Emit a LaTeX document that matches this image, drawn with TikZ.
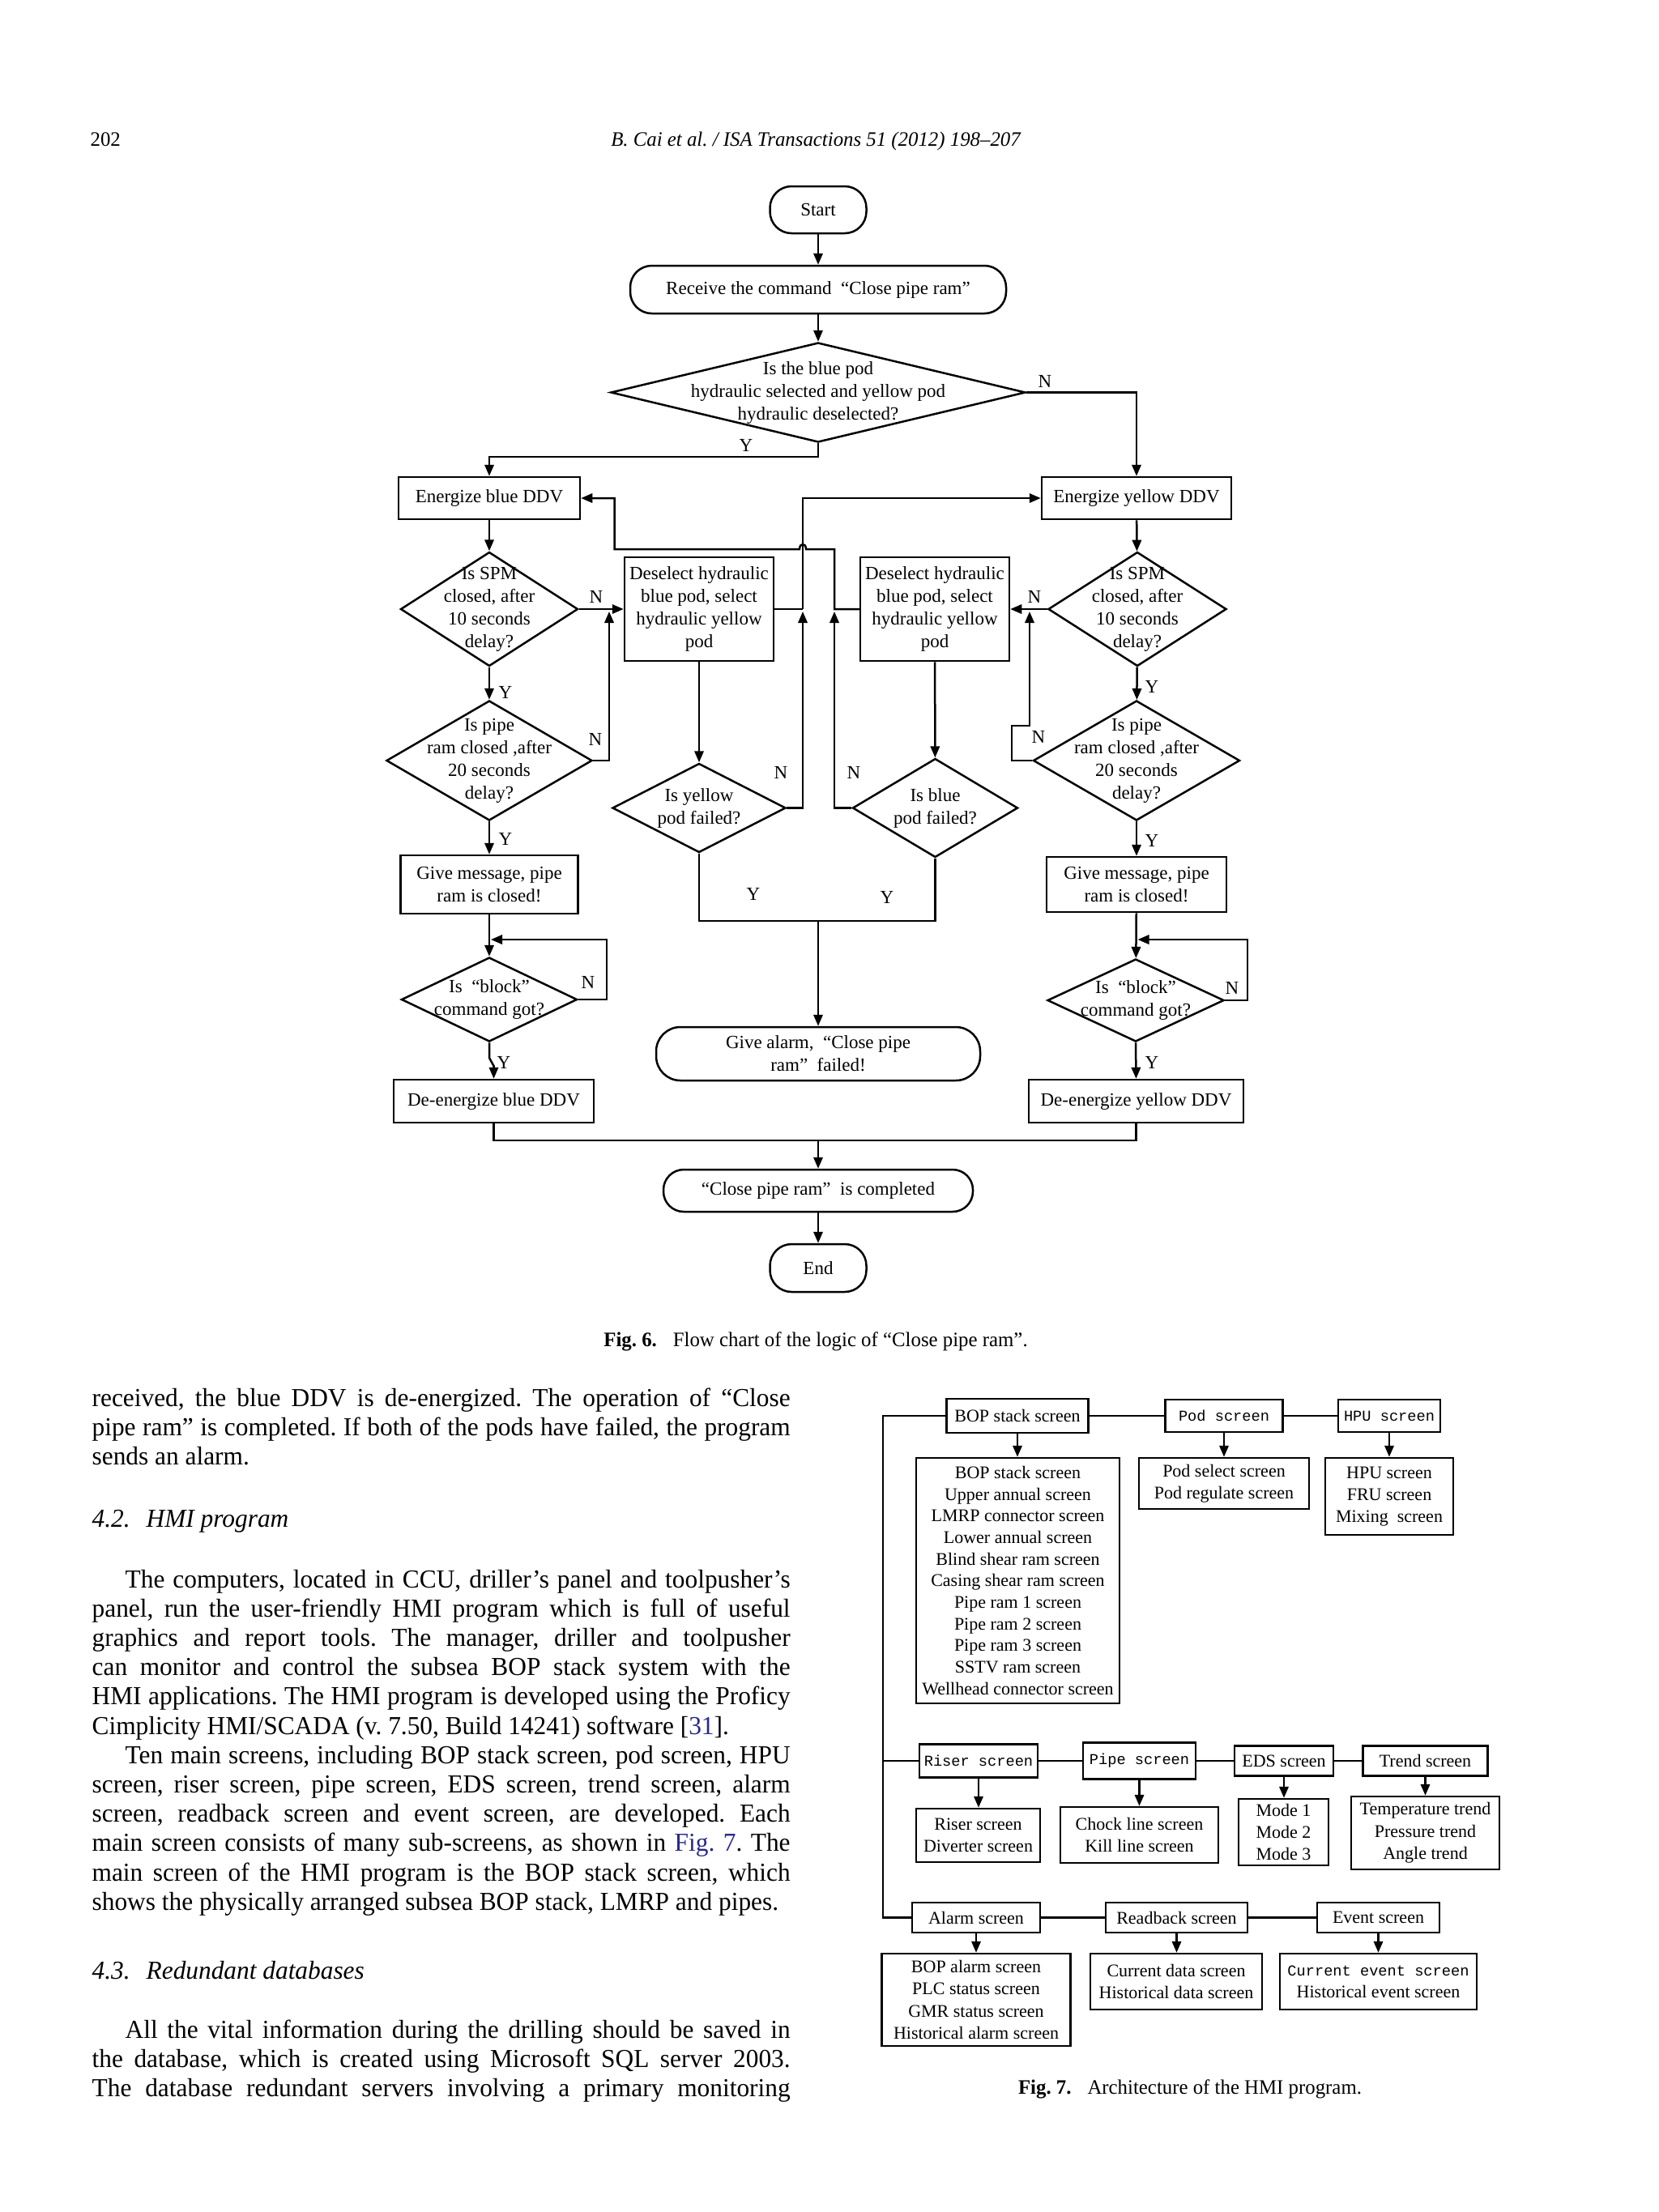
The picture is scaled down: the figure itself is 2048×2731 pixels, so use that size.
\documentclass[tikz,border=0pt]{standalone}
\usepackage{fontspec}
\setmainfont{Liberation Serif}
\newfontfamily\bodyfont[FakeStretch=0.98]{Liberation Serif}
\newfontfamily\monofont{Liberation Mono}
\usetikzlibrary{shapes.geometric,arrows.meta}
\definecolor{linkblue}{RGB}{40,40,140}
\frenchspacing
\newcommand\PX{0.3pt}
\newlength\colw \setlength\colw{258.6pt}
\newcommand\jline[1]{\hbox to \colw{#1}}
\newcommand\lline[1]{\hbox to \colw{#1\hfil}}
\newcommand\bt{\bodyfont\fontsize{9.6}{10.86}\selectfont\frenchspacing}
\newcommand\capf{\bodyfont\fontsize{7.6}{9.2}\selectfont\frenchspacing}
\newcommand\fc{\fontsize{6.9}{8.4}\selectfont}
\newcommand\fs{\fontsize{6.6}{8.2}\selectfont}
\newcommand\fm{\monofont\fontsize{5.6}{8.2}\selectfont}
\tikzset{
  ln/.style={line width=0.75pt},
  arr/.style={ln, -{Triangle[length=4.2pt,width=3.4pt]}},
  fbox/.style={draw, line width=0.75pt, inner sep=0pt, font=\fc, align=center},
  dia/.style={draw, diamond, line width=0.75pt, inner sep=0pt},
  dtext/.style={inner sep=0pt, align=center, font=\fc},
  lab/.style={inner sep=0pt, font=\fc},
  f7/.style={draw, line width=0.75pt, inner sep=0pt, align=center, font=\fs},
  f7m/.style={f7, font=\fm},
  body/.style={anchor=base west, inner sep=0pt, font=\bt},
}
\begin{document}
\begin{tikzpicture}[x=0.3pt, y=-0.3pt]
\path[use as bounding box, fill=white] (0,0) rectangle (2048,2731);

% ---------- header ----------
\node[anchor=base west, inner sep=0pt, font=\capf] (pg) at (111,180) {202};
\node[anchor=base, inner sep=0pt, font=\capf\itshape] (hd) at (1007,180) {B. Cai et al. / ISA Transactions 51 (2012) 198–207};

% ---------- Fig. 6 ----------
\node[fbox, rounded corners=8pt, minimum width={119*\PX}, minimum height={58*\PX}] (start) at (1010,259) {Start};
\node[fbox, rounded corners=8pt, minimum width={464*\PX}, minimum height={59*\PX}] (recv) at (1010,357.5) {Receive the command\ \ “Close pipe ram”};
\node[dia, minimum width={512*\PX}, minimum height={123*\PX}] (d0) at (1010,484.5) {};
\node[dtext] (d0t) at (d0) {Is the blue pod\\hydraulic selected and yellow pod\\hydraulic deselected?};

\node[fbox, minimum width={224*\PX}, minimum height={52*\PX}] (ebl) at (604,615) {Energize blue DDV};
\node[fbox, minimum width={234*\PX}, minimum height={52*\PX}] (eyl) at (1403,615) {Energize yellow DDV};

\node[dia, minimum width={219*\PX}, minimum height={141*\PX}] (spmL) at (604,752) {};
\node[dtext] (spmLt) at (spmL) {Is SPM\\closed, after\\10 seconds\\delay?};
\node[dia, minimum width={220*\PX}, minimum height={141*\PX}] (spmR) at (1404,752) {};
\node[dtext] (spmRt) at (spmR) {Is SPM\\closed, after\\10 seconds\\delay?};

\node[fbox, minimum width={184*\PX}, minimum height={128*\PX}] (desL) at (863,752) {Deselect hydraulic\\blue pod, select\\hydraulic yellow\\pod};
\node[fbox, minimum width={184*\PX}, minimum height={128*\PX}] (desR) at (1154,752) {Deselect hydraulic\\blue pod, select\\hydraulic yellow\\pod};

\node[dia, minimum width={254*\PX}, minimum height={148*\PX}] (pipeL) at (604,939) {};
\node[dtext] (pipeLt) at (pipeL) {Is pipe\\ram closed ,after\\20 seconds\\delay?};
\node[dia, minimum width={255*\PX}, minimum height={148*\PX}] (pipeR) at (1403,939) {};
\node[dtext] (pipeRt) at (pipeR) {Is pipe\\ram closed ,after\\20 seconds\\delay?};

\node[dia, minimum width={214*\PX}, minimum height={110*\PX}] (podY) at (863,997.5) {};
\node[dtext] (podYt) at (podY) {Is yellow\\pod failed?};
\node[dia, minimum width={204*\PX}, minimum height={122*\PX}] (podB) at (1154.5,997.5) {};
\node[dtext] (podBt) at (podB) {Is blue\\pod failed?};

\node[fbox, minimum width={219*\PX}, minimum height={72*\PX}] (msgL) at (604,1092) {Give message, pipe\\ram is closed!};
\node[fbox, minimum width={222*\PX}, minimum height={68*\PX}] (msgR) at (1403,1092) {Give message, pipe\\ram is closed!};

\node[dia, minimum width={217*\PX}, minimum height={104*\PX}] (blkL) at (604,1234) {};
\node[dtext] (blkLt) at (blkL) {Is\ \ “block”\\command got?};
\node[dia, minimum width={218*\PX}, minimum height={102*\PX}] (blkR) at (1402,1235) {};
\node[dtext] (blkRt) at (blkR) {Is\ \ “block”\\command got?};

\node[fbox, minimum width={247*\PX}, minimum height={53*\PX}] (deL) at (609.5,1359.5) {De-energize blue DDV};
\node[fbox, minimum width={265*\PX}, minimum height={53*\PX}] (deR) at (1402.5,1359.5) {De-energize yellow DDV};

\node[fbox, rounded corners=9pt, minimum width={400*\PX}, minimum height={66*\PX}] (alarm) at (1010,1301) {Give alarm,\ \ “Close pipe\\ram”\ \ failed!};
\node[fbox, rounded corners=7.5pt, minimum width={382*\PX}, minimum height={52*\PX}] (done) at (1010,1470) {“Close pipe ram”\ \ is completed};
\node[fbox, rounded corners=8pt, minimum width={119*\PX}, minimum height={59*\PX}] (endn) at (1010,1565.5) {End};

% junction coordinates
\coordinate (jTop) at (1010,564);
\coordinate (jL) at (991,752);
\coordinate (jR) at (1030,752);
\coordinate (jC) at (1010,1137);
\coordinate (jB) at (1010,1408);

% connectors
\draw[arr] (start) -- (recv);
\draw[arr] (recv) -- (d0);
\draw[arr] (d0.east) -| (eyl.north);
\draw[arr] (d0.south) -- (jTop) -| (ebl.north);
\draw[arr] (ebl) -- (spmL);
\draw[arr] (eyl) -- (spmR);
\draw[arr] (spmL.east) -- (desL.west);
\draw[arr] (spmR.west) -- (desR.east);
\draw[arr] (spmL) -- (pipeL);
\draw[arr] (spmR) -- (pipeR);
\draw[arr] (pipeL.east) -- (752,939) -- (752,755);
\draw[arr] (pipeR.west) -- (1249,939) -- (1249,896) -- (1271,896) -- (1271,755);
\draw[arr] (desL) -- (podY);
\draw[arr] (desR) -- (podB);
\draw[arr] (podY.east) -| ([yshift=-0.9pt]jL);
\draw[ln] (desL.east) -- (jL);
\draw[arr] (jL) |- (eyl.west);
\draw[arr] (podB.west) -| ([yshift=-0.9pt]jR);
\draw[arr] (desR.west) -- (jR) -- (1030,678) -- (995,678) .. controls (995,670) and (987,670) .. (987,678) -- (758.5,678) |- (ebl.east);
\draw[ln] (podY.south) |- (jC);
\draw[ln] (podB.south) |- (jC);
\draw[arr] (jC) -- (alarm.north);
\draw[arr] (pipeL) -- (msgL);
\draw[arr] (pipeR) -- (msgR);
\draw[arr] (msgL) -- (blkL);
\draw[arr] (msgR) -- (blkR);
\draw[arr] (blkL.east) -- (749,1234) -- (749,1160) -- (606,1160);
\draw[arr] (blkR.east) -- (1540,1235) -- (1540,1160) -- (1404.5,1160);
\draw[arr] (blkL.south) -- (604,1306) -- (609.5,1316) -- (deL.north);
\draw[arr] (blkR.south) -- (deR.north);
\draw[ln] (deL.south) -- (609.5,1408) -- (1402.5,1408) -- (deR.south);
\draw[arr] (jB) -- (done.north);
\draw[arr] (done) -- (endn);

% Y / N labels
\node[lab] (n0) at (1290,471) {N};
\node[lab] (y0) at (921,550) {Y};
\node[lab] (n1) at (736,737) {N};
\node[lab] (y1) at (624,855) {Y};
\node[lab] (n2) at (735,913) {N};
\node[lab] (y2) at (624,1036) {Y};
\node[lab] (n3) at (964,954) {N};
\node[lab] (y3) at (930,1104) {Y};
\node[lab] (n4) at (1054,954) {N};
\node[lab] (y4) at (1095,1108) {Y};
\node[lab] (n5) at (1277,737) {N};
\node[lab] (y5) at (1422,848) {Y};
\node[lab] (n6) at (1282,910) {N};
\node[lab] (y6) at (1422,1038) {Y};
\node[lab] (n7) at (726,1213) {N};
\node[lab] (y7) at (622,1312) {Y};
\node[lab] (n8) at (1521,1220) {N};
\node[lab] (y8) at (1422,1312) {Y};

\node[anchor=base, inner sep=0pt, font=\capf] (cap6) at (1007,1662) {\textbf{Fig. 6.}\hspace{6pt}Flow chart of the logic of “Close pipe ram”.};

% ---------- body text ----------
\node[body] (p1) at (113,1736) {\vtop{%
\jline{received, the blue DDV is de-energized. The operation of “Close}
\jline{pipe ram” is completed. If both of the pods have failed, the program}
\lline{sends an alarm.}}};
\node[body] (h42) at (113,1885) {\itshape 4.2.\hspace{6pt}HMI program};
\node[body] (p2) at (113,1960) {\vtop{%
\jline{\hskip12.3pt The computers, located in CCU, driller’s panel and toolpusher’s}
\jline{panel, run the user-friendly HMI program which is full of useful}
\jline{graphics and report tools. The manager, driller and toolpusher}
\jline{can monitor and control the subsea BOP stack system with the}
\jline{HMI applications. The HMI program is developed using the Proficy}
\lline{Cimplicity HMI/SCADA (v. 7.50, Build 14241) software [\textcolor{linkblue}{31}].}
\jline{\hskip12.3pt Ten main screens, including BOP stack screen, pod screen, HPU}
\jline{screen, riser screen, pipe screen, EDS screen, trend screen, alarm}
\jline{screen, readback screen and event screen, are developed. Each}
\jline{main screen consists of many sub-screens, as shown in \textcolor{linkblue}{Fig. 7}. The}
\jline{main screen of the HMI program is the BOP stack screen, which}
\lline{shows the physically arranged subsea BOP stack, LMRP and pipes.}}};
\node[body] (h43) at (113,2443) {\itshape 4.3.\hspace{6pt}Redundant databases};
\node[body] (p4) at (113,2516) {\vtop{%
\jline{\hskip12.3pt All the vital information during the drilling should be saved in}
\jline{the database, which is created using Microsoft SQL server 2003.}
\jline{The database redundant servers involving a primary monitoring}}};

% ---------- Fig. 7 ----------
\node[f7, minimum width={175*\PX}, minimum height={42*\PX}] (bop) at (1256,1748) {BOP stack screen};
\node[f7m, minimum width={145*\PX}, minimum height={40*\PX}] (pod) at (1511,1748) {Pod screen};
\node[f7m, minimum width={126*\PX}, minimum height={40*\PX}] (hpu) at (1715,1748) {HPU screen};
\node[f7, font=\fontsize{6.6}{8}\selectfont, minimum width={251*\PX}, minimum height={303*\PX}] (bopsub) at (1256.5,1951.5) {BOP stack screen\\Upper annual screen\\LMRP connector screen\\Lower annual screen\\Blind shear ram screen\\Casing shear ram screen\\Pipe ram 1 screen\\Pipe ram 2 screen\\Pipe ram 3 screen\\SSTV ram screen\\Wellhead connector screen};
\node[f7, minimum width={210*\PX}, minimum height={63*\PX}] (podsub) at (1511,1831.5) {Pod select screen\\Pod regulate screen};
\node[f7, minimum width={158*\PX}, minimum height={95*\PX}] (hpusub) at (1715,1847.5) {HPU screen\\FRU screen\\Mixing\ \ screen};

\node[f7m, minimum width={146*\PX}, minimum height={41*\PX}] (riser) at (1208,2174) {Riser screen};
\node[f7m, minimum width={139*\PX}, minimum height={45*\PX}] (pipe) at (1406.5,2174) {Pipe screen};
\node[f7, minimum width={122*\PX}, minimum height={37*\PX}] (eds) at (1585,2174) {EDS screen};
\node[f7, minimum width={154*\PX}, minimum height={37*\PX}] (trend) at (1759.5,2174) {Trend screen};
\node[f7, minimum width={153*\PX}, minimum height={66*\PX}] (risersub) at (1207.5,2266) {Riser screen\\Diverter screen};
\node[f7, minimum width={195*\PX}, minimum height={69*\PX}] (pipesub) at (1406.5,2265.5) {Chock line screen\\Kill line screen};
\node[f7, minimum width={111*\PX}, minimum height={82*\PX}] (edssub) at (1584.5,2262) {Mode 1\\Mode 2\\Mode 3};
\node[f7, minimum width={183*\PX}, minimum height={90*\PX}] (trendsub) at (1759.5,2263) {Temperature trend\\Pressure trend\\Angle trend};

\node[f7, minimum width={158*\PX}, minimum height={37*\PX}] (alarm7) at (1205,2367.5) {Alarm screen};
\node[f7, minimum width={175*\PX}, minimum height={37*\PX}] (readback) at (1452.5,2367.5) {Readback screen};
\node[f7, minimum width={151*\PX}, minimum height={37*\PX}] (event) at (1701.5,2367.5) {Event screen};
\node[f7, minimum width={233*\PX}, minimum height={114*\PX}] (alarmsub) at (1205,2469) {BOP alarm screen\\PLC status screen\\GMR status screen\\Historical alarm screen};
\node[f7, minimum width={212*\PX}, minimum height={69*\PX}] (readsub) at (1452,2446.5) {Current data screen\\Historical data screen};
\node[f7, minimum width={243*\PX}, minimum height={69*\PX}] (eventsub) at (1701.5,2446.5) {{\fm Current\ event\ screen}\\Historical event screen};

\coordinate (trunkTop) at (1090,1748);
\coordinate (trunkMid) at (1090,2174);
\draw[ln] (bop.west) -- (trunkTop) -- (trunkMid) |- (alarm7.west);
\draw[ln] (trunkMid) -- (riser.west);
\draw[ln] (bop.east) -- (pod.west);
\draw[ln] (pod.east) -- (hpu.west);
\draw[ln] (riser.east) -- (pipe.west);
\draw[ln] (pipe.east) -- (eds.west);
\draw[ln] (eds.east) -- (trend.west);
\draw[ln] (alarm7.east) -- (readback.west);
\draw[ln] (readback.east) -- (event.west);
\foreach \a/\b in {bop/bopsub, pod/podsub, hpu/hpusub, riser/risersub, pipe/pipesub, eds/edssub, trend/trendsub, alarm7/alarmsub, readback/readsub, event/eventsub}
  \draw[arr] (\a.south) -- (\a.south |- \b.north);

\node[anchor=base, inner sep=0pt, font=\capf] (cap7) at (1469,2585) {\textbf{Fig. 7.}\hspace{6pt}Architecture of the HMI program.};
\end{tikzpicture}
\end{document}
